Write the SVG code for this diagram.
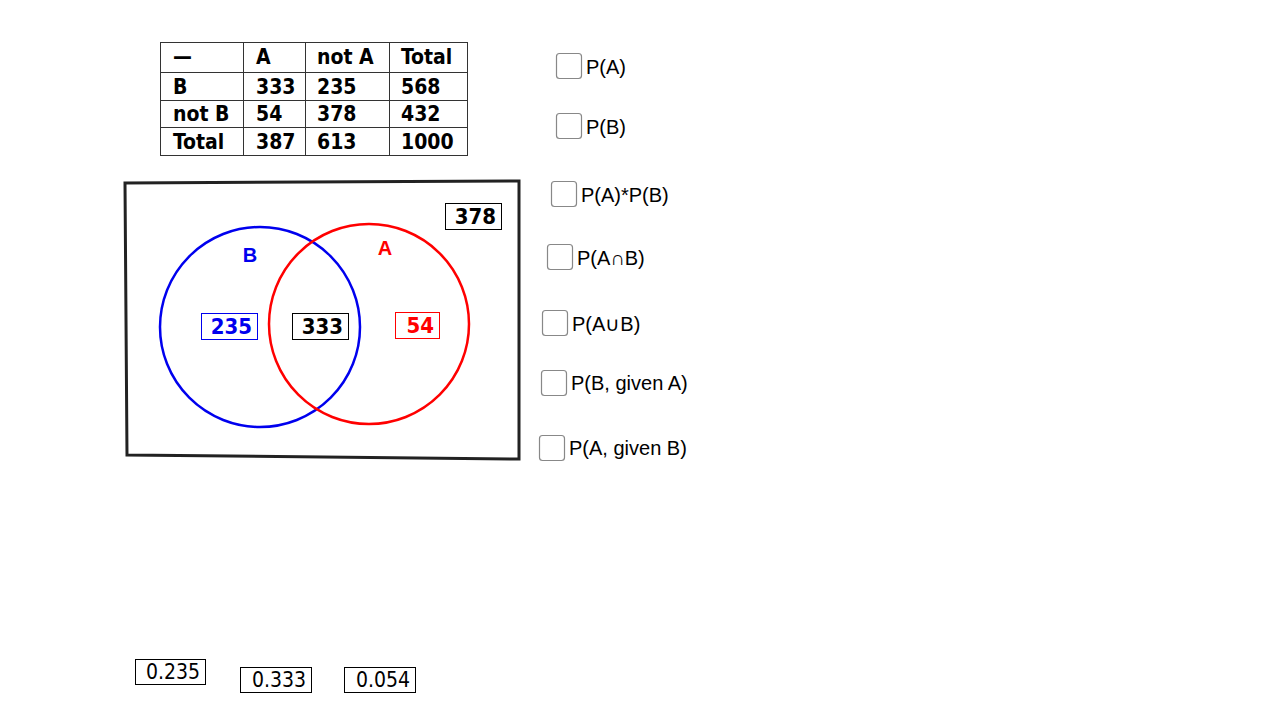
<svg xmlns="http://www.w3.org/2000/svg" width="1280" height="707" viewBox="0 0 1280 707">
<style>
.tb{font-family:"DejaVu Sans Condensed","DejaVu Sans",sans-serif;font-weight:bold;font-size:21px;fill:#000}
.vn{font-family:"DejaVu Sans Condensed","DejaVu Sans",sans-serif;font-weight:bold;font-size:22px;fill:#000}
.grid{stroke:#333;stroke-width:1;fill:none}
.cb{fill:#fff;stroke:#888;stroke-width:1.2}
.lbl{font-family:"Liberation Sans",Arial,sans-serif;font-size:20px;fill:#000}
.val{font-family:"DejaVu Sans Condensed","DejaVu Sans",sans-serif;font-size:21px;fill:#000}
.box{fill:#fff;stroke:#000;stroke-width:1}
.set{font-family:"Liberation Sans",Arial,sans-serif;font-weight:bold;font-size:20px}
</style>
<rect width="1280" height="707" fill="#fff"/>
<g id="table">
<rect class="grid" x="160.5" y="42.5" width="307" height="113"/>
<line class="grid" x1="243.5" y1="42" x2="243.5" y2="155"/>
<line class="grid" x1="305.5" y1="42" x2="305.5" y2="155"/>
<line class="grid" x1="389.5" y1="42" x2="389.5" y2="155"/>
<line class="grid" x1="160" y1="72.5" x2="467" y2="72.5"/>
<line class="grid" x1="160" y1="100.5" x2="467" y2="100.5"/>
<line class="grid" x1="160" y1="127.5" x2="467" y2="127.5"/>
<text class="tb" x="173" y="64">—</text><text class="tb" x="256" y="64">A</text><text class="tb" x="317" y="64">not A</text><text class="tb" x="401" y="64">Total</text>
<text class="tb" x="173" y="94">B</text><text class="tb" x="256" y="94">333</text><text class="tb" x="317" y="94">235</text><text class="tb" x="401" y="94">568</text>
<text class="tb" x="173" y="121">not B</text><text class="tb" x="256" y="121">54</text><text class="tb" x="317" y="121">378</text><text class="tb" x="401" y="121">432</text>
<text class="tb" x="173" y="149">Total</text><text class="tb" x="256" y="149">387</text><text class="tb" x="317" y="149">613</text><text class="tb" x="401" y="149">1000</text>
</g>
<g id="venn">
<polygon points="125,183 519,181 519,459 127,455" fill="none" stroke="#222" stroke-width="3"/>
<circle cx="260" cy="327" r="100" fill="none" stroke="#0000ee" stroke-width="2.5"/>
<circle cx="369" cy="324" r="100" fill="none" stroke="#ff0000" stroke-width="2.5"/>
<text x="250" y="262" text-anchor="middle" class="set" fill="#0000ee">B</text>
<text x="385" y="255" text-anchor="middle" class="set" fill="#ff0000">A</text>
</g>
<g id="n378"><rect class="box" x="445.5" y="203.5" width="56" height="26"/><text class="vn" x="496" y="224" text-anchor="end">378</text></g>
<g id="n235"><rect x="201.5" y="313.5" width="56" height="26" fill="#fff" stroke="#0000ee"/><text class="vn" x="252" y="334" text-anchor="end" style="fill:#0000ee">235</text></g>
<g id="n333"><rect class="box" x="292.5" y="313.5" width="56" height="26"/><text class="vn" x="343" y="334" text-anchor="end">333</text></g>
<g id="n54"><rect x="395.5" y="312.5" width="44" height="26" fill="#fff" stroke="#ff0000"/><text class="vn" x="434" y="333" text-anchor="end" style="fill:#ff0000">54</text></g>
<g id="cb1"><rect class="cb" x="556.5" y="53.5" width="25" height="25" rx="3"/><text class="lbl" x="586" y="74">P(A)</text></g>
<g id="cb2"><rect class="cb" x="556.5" y="113.5" width="25" height="25" rx="3"/><text class="lbl" x="586" y="134">P(B)</text></g>
<g id="cb3"><rect class="cb" x="551.5" y="181.5" width="25" height="25" rx="3"/><text class="lbl" x="581" y="202">P(A)*P(B)</text></g>
<g id="cb4"><rect class="cb" x="547.5" y="244.5" width="25" height="25" rx="3"/><text class="lbl" x="577" y="265">P(A∩B)</text></g>
<g id="cb5"><rect class="cb" x="542.5" y="310.5" width="25" height="25" rx="3"/><text class="lbl" x="572" y="331">P(A∪B)</text></g>
<g id="cb6"><rect class="cb" x="541.5" y="370.5" width="25" height="25" rx="3"/><text class="lbl" x="571" y="390">P(B, given A)</text></g>
<g id="cb7"><rect class="cb" x="539.5" y="435.5" width="25" height="25" rx="3"/><text class="lbl" x="569" y="455">P(A, given B)</text></g>
<g id="v1"><rect class="box" x="135.5" y="659.5" width="70" height="25"/><text class="val" x="200" y="679" text-anchor="end">0.235</text></g>
<g id="v2"><rect class="box" x="240.5" y="667.5" width="71" height="25"/><text class="val" x="306" y="687" text-anchor="end">0.333</text></g>
<g id="v3"><rect class="box" x="344.5" y="667.5" width="71" height="25"/><text class="val" x="410" y="687" text-anchor="end">0.054</text></g>
</svg>
